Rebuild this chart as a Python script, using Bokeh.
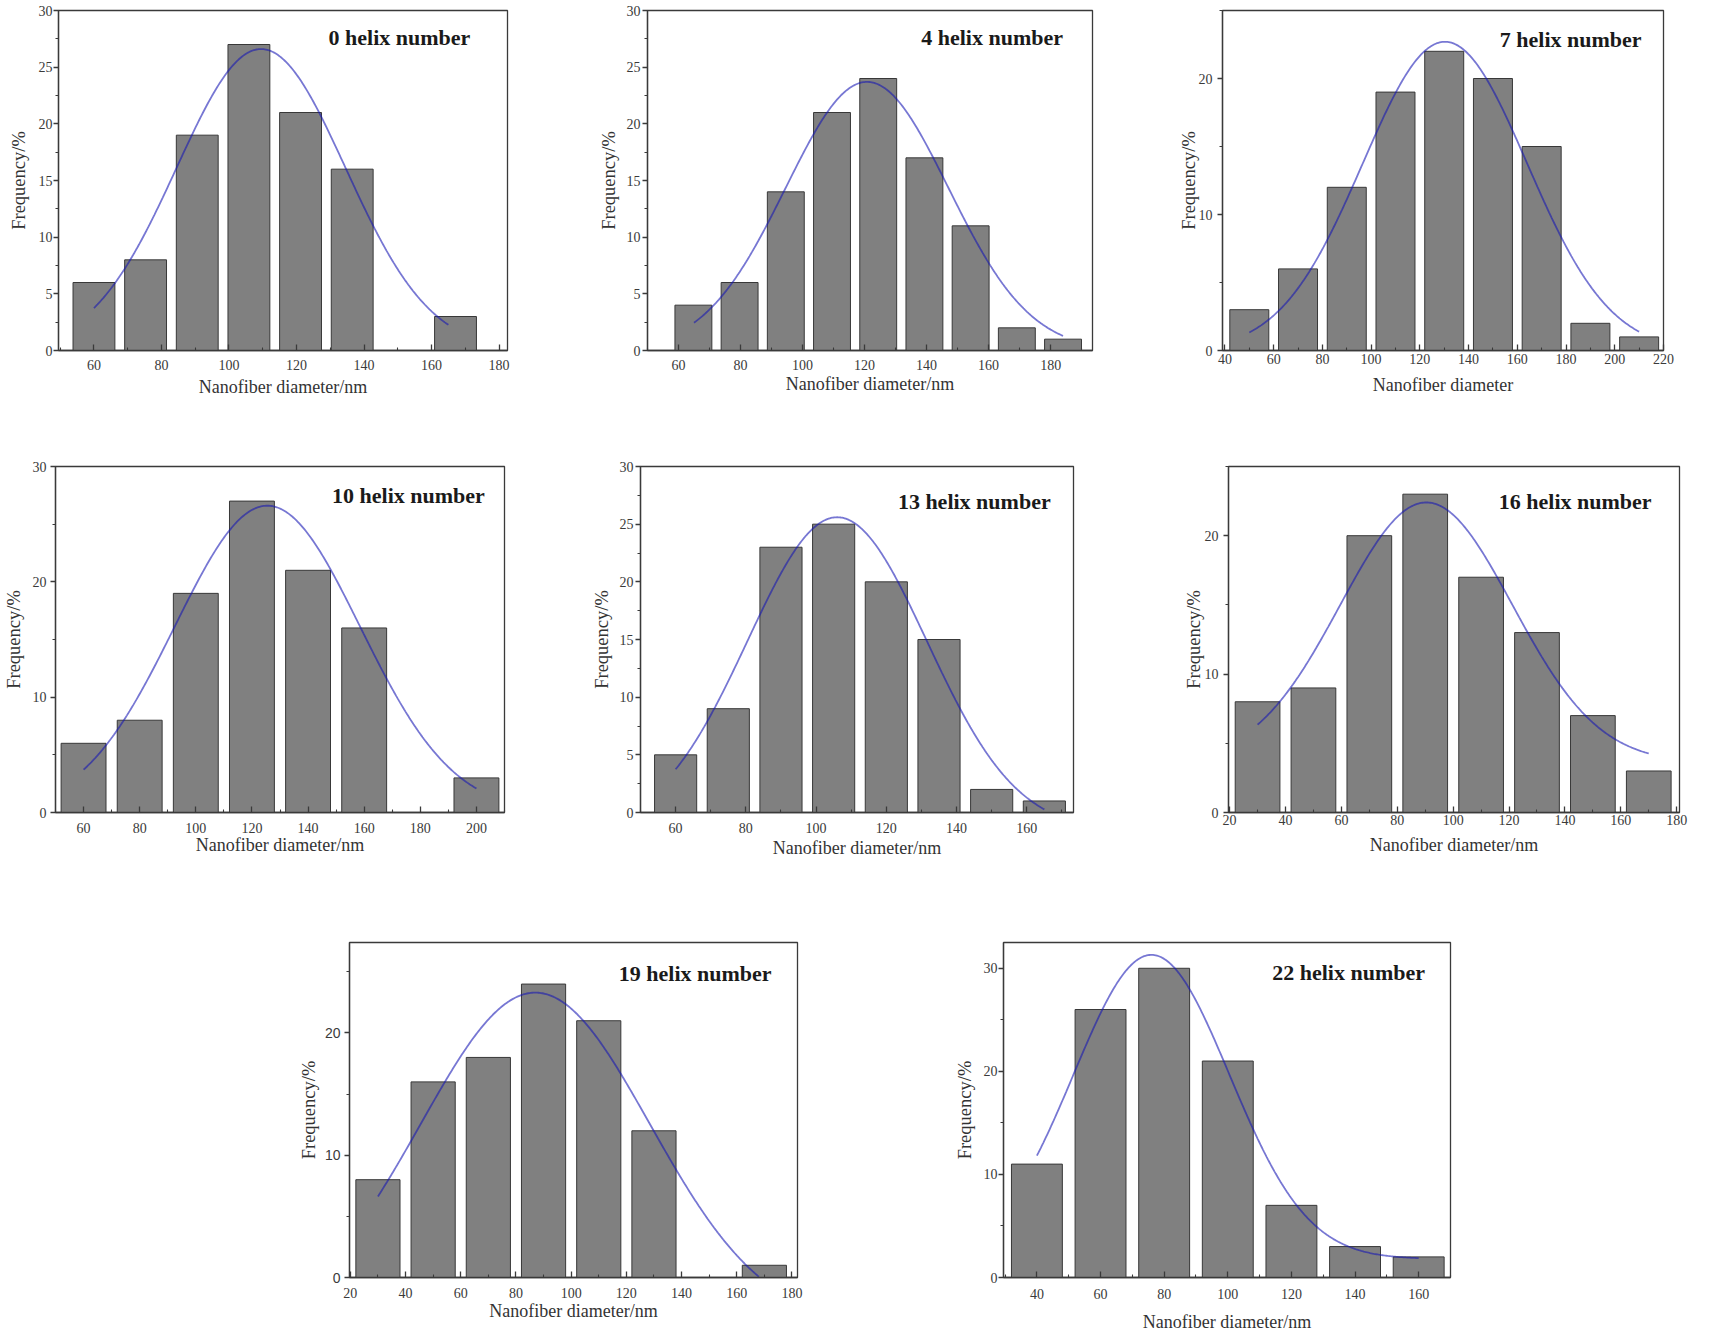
import numpy as np
from bokeh.plotting import figure
from bokeh.layouts import column, row
from bokeh.models import Spacer, Range1d, FixedTicker, Label
from bokeh.embed import file_html
from bokeh.resources import INLINE

# Histogram data: bin centre (nm) and frequency (%) for each helix number
h0_centers = [60, 75.3, 90.6, 105.9, 121.2, 136.5, 167.1]
h0_freq = [6, 8, 19, 27, 21, 16, 3]
h4_centers = [64.8, 79.7, 94.6, 109.5, 124.4, 139.3, 154.2, 169.1, 184.0]
h4_freq = [4, 6, 14, 21, 24, 17, 11, 2, 1]
h7_centers = [50, 70, 90, 110, 130, 150, 170, 190, 210]
h7_freq = [3, 6, 12, 19, 22, 20, 15, 2, 1]
h10_centers = [60, 80, 100, 120, 140, 160, 200]
h10_freq = [6, 8, 19, 27, 21, 16, 3]
h13_centers = [60, 75, 90, 105, 120, 135, 150, 165]
h13_freq = [5, 9, 23, 25, 20, 15, 2, 1]
h16_centers = [30, 50, 70, 90, 110, 130, 150, 170]
h16_freq = [8, 9, 20, 23, 17, 13, 7, 3]
h19_centers = [30, 50, 70, 90, 110, 130, 170]
h19_freq = [8, 16, 18, 24, 21, 12, 1]
h22_centers = [40, 60, 80, 100, 120, 140, 160]
h22_freq = [11, 26, 30, 21, 7, 3, 2]

# Gaussian fit of each distribution: centre, sigma, amplitude, offset, x from, x to
h0_fit = [109.5, 25.0, 26.6, 0.0, 60, 165]
h4_fit = [120.8, 26.2, 23.7, 0.0, 65, 184]
h7_fit = [130.3, 33.7, 22.7, 0.0, 50, 210]
h10_fit = [125.5, 33.0, 26.6, 0.0, 60, 200]
h13_fit = [106.0, 25.5, 27.2, -1.6, 60, 165]
h16_fit = [90.4, 30.8, 18.8, 3.6, 30, 170]
h19_fit = [87.0, 41.5, 27.3, -4.0, 30, 168]
h22_fit = [76.0, 24.5, 29.5, 1.8, 40, 160]

# x tick labels of each panel
h0_xticks = [60, 80, 100, 120, 140, 160, 180]
h4_xticks = [60, 80, 100, 120, 140, 160, 180]
h7_xticks = [40, 60, 80, 100, 120, 140, 160, 180, 200, 220]
h10_xticks = [60, 80, 100, 120, 140, 160, 180, 200]
h13_xticks = [60, 80, 100, 120, 140, 160]
h16_xticks = [20, 40, 60, 80, 100, 120, 140, 160, 180]
h19_xticks = [20, 40, 60, 80, 100, 120, 140, 160, 180]
h22_xticks = [40, 60, 80, 100, 120, 140, 160]

# y tick labels of each panel
h0_yticks = [0, 5, 10, 15, 20, 25, 30]
h4_yticks = [0, 5, 10, 15, 20, 25, 30]
h7_yticks = [0, 10, 20]
h10_yticks = [0, 10, 20, 30]
h13_yticks = [0, 5, 10, 15, 20, 25, 30]
h16_yticks = [0, 10, 20]
h19_yticks = [0, 10, 20]
h22_yticks = [0, 10, 20, 30]

SERIF = "Liberation Serif"
AXIS_COLOR = "#3a3a3a"


def panel(title, centers, freq, fit, xticks, yticks, xlabel,
          size, borders, xr, yr, bar_w, title_xy,
          x_std=(6, 5), y_std=(1, 10), ytick_font=SERIF):
    w, h = size
    bl, bt, br, bb = borders
    p = figure(width=w, height=h, output_backend="svg", toolbar_location=None,
               x_range=Range1d(*xr), y_range=Range1d(*yr),
               min_border_left=bl, min_border_top=bt,
               min_border_right=br, min_border_bottom=bb)
    p.grid.visible = False
    p.background_fill_color = "white"
    p.border_fill_color = "white"
    p.outline_line_color = AXIS_COLOR
    p.outline_line_width = 1.3
    p.outline_line_alpha = 1.0

    p.vbar(x=centers, top=freq, bottom=0, width=bar_w,
           fill_color="#808080", line_color="#383838", line_width=1)

    xc, sig, amp, off, x0, x1 = fit
    xs = np.linspace(x0, x1, 300)
    ys = off + amp * np.exp(-(xs - xc) ** 2 / (2 * sig ** 2))
    p.line(xs, ys, line_color="#1515b4", line_alpha=0.58, line_width=1.8)

    # x axis: ticks pointing into the frame
    xstep = xticks[1] - xticks[0]
    xminor = [t + xstep / 2 for t in xticks] + [xticks[0] - xstep / 2]
    p.xaxis.ticker = FixedTicker(ticks=xticks, minor_ticks=xminor)
    p.xaxis.major_tick_in = 6
    p.xaxis.major_tick_out = 0
    p.xaxis.minor_tick_in = 3
    p.xaxis.minor_tick_out = 0
    p.xaxis.major_label_standoff = x_std[0]
    p.xaxis.axis_label = xlabel
    p.xaxis.axis_label_standoff = x_std[1]

    # y axis: ticks pointing out of the frame
    ystep = yticks[1] - yticks[0]
    yminor = [t + ystep / 2 for t in yticks]
    p.yaxis.ticker = FixedTicker(ticks=yticks, minor_ticks=yminor)
    p.yaxis.major_tick_in = 0
    p.yaxis.major_tick_out = 5
    p.yaxis.minor_tick_in = 0
    p.yaxis.minor_tick_out = 3
    p.yaxis.major_label_standoff = y_std[0]
    p.yaxis.axis_label = "Frequency/%"
    p.yaxis.axis_label_standoff = y_std[1]
    p.yaxis.major_label_text_font = ytick_font

    for ax in (p.xaxis[0], p.yaxis[0]):
        ax.axis_line_color = AXIS_COLOR
        ax.axis_line_width = 1.3
        ax.major_tick_line_color = AXIS_COLOR
        ax.major_tick_line_width = 1.3
        ax.minor_tick_line_color = AXIS_COLOR
        ax.minor_tick_line_width = 1.1
        ax.axis_label_text_font = SERIF
        ax.axis_label_text_font_style = "normal"
        ax.axis_label_text_color = "#333333"
        ax.major_label_text_font_size = "14px"
        ax.major_label_text_color = "#3a3a3a"
    p.xaxis.axis_label_text_font_size = "18px"
    p.yaxis.axis_label_text_font_size = "18.5px"
    p.xaxis.major_label_text_font = SERIF

    p.add_layout(Label(x=title_xy[0], y=title_xy[1], text=title,
                       text_align="right", text_baseline="middle",
                       text_font=SERIF, text_font_style="bold",
                       text_font_size="22px", text_color="#1a1a1a"))
    return p


p0 = panel("0 helix number", h0_centers, h0_freq, h0_fit, h0_xticks, h0_yticks,
           "Nanofiber diameter/nm", (577, 440), (58, 10, 70, 89),
           (49.5, 182.5), (0, 30), 12.4, (171.5, 27.6), x_std=(9, 4), y_std=(1, 7))
p4 = panel("4 helix number", h4_centers, h4_freq, h4_fit, h4_xticks, h4_yticks,
           "Nanofiber diameter/nm", (583, 440), (70, 9, 68, 90),
           (50, 193.5), (0, 30), 11.9, (184.0, 27.6), x_std=(9, 1), y_std=(2, 5))
p7 = panel("7 helix number", h7_centers, h7_freq, h7_fit, h7_xticks, h7_yticks,
           "Nanofiber diameter", (560, 440), (62, 7, 57, 87),
           (39, 220), (0, 25), 16, (211, 22.85), x_std=(3, 8), y_std=(5, -3))
p10 = panel("10 helix number", h10_centers, h10_freq, h10_fit, h10_xticks, h10_yticks,
            "Nanofiber diameter/nm", (577, 450), (48, 26, 73, 76),
            (50, 210), (0, 30), 16, (203.0, 27.45), x_std=(10, -1), y_std=(4, 6))
p13 = panel("13 helix number", h13_centers, h13_freq, h13_fit, h13_xticks, h13_yticks,
            "Nanofiber diameter/nm", (583, 450), (63, 25, 87, 78),
            (50, 173.3), (0, 30), 12, (166.8, 27.0), x_std=(10, 2), y_std=(2, 5))
p16 = panel("16 helix number", h16_centers, h16_freq, h16_fit, h16_xticks, h16_yticks,
            "Nanofiber diameter/nm", (560, 450), (68, 23, 41, 78),
            (19.6, 181), (0, 25), 16, (171.0, 22.5), x_std=(2, 7), y_std=(5, -2))
p19 = panel("19 helix number", h19_centers, h19_freq, h19_fit, h19_xticks, h19_yticks,
            "Nanofiber diameter/nm", (590, 444), (69, 48, 73, 56),
            (19.7, 182), (0, 27.4), 16, (172.6, 24.9), x_std=(10, 0), y_std=(4, 3),
            ytick_font="Liberation Sans")
p22 = panel("22 helix number", h22_centers, h22_freq, h22_fit, h22_xticks, h22_yticks,
            "Nanofiber diameter/nm", (630, 444), (133, 52, 50, 53),
            (29.5, 170), (0, 32.5), 16, (162.0, 29.6), x_std=(11, 10), y_std=(1, 6))

layout = column(
    row(p0, p4, p7),
    row(p10, p13, p16),
    row(Spacer(width=280, height=444), p19, p22),
)

open("out.html", "w").write(file_html(layout, INLINE))
